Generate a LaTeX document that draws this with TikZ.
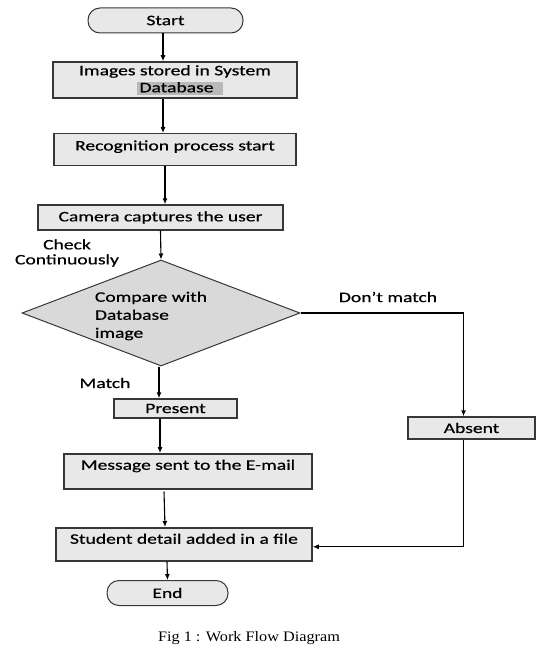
\documentclass[tikz,border=0pt]{standalone}
\usepackage{fontspec}
\setmainfont{Carlito}[FakeStretch=1.35,FakeBold=0.6]
\newfontfamily\capfont{Liberation Serif}[FakeStretch=1.12]
\usetikzlibrary{shapes.geometric,arrows.meta}
\definecolor{boxgray}{RGB}{232,232,232}
\definecolor{diagray}{RGB}{217,217,217}
\definecolor{hlgray}{RGB}{185,185,185}
\definecolor{edgegray}{RGB}{55,55,55}

\begin{document}
\begin{tikzpicture}[x=1pt,y=-1pt,
  font=\fontsize{14.5}{17}\selectfont,
  proc/.style={rectangle, draw=edgegray, line width=1.5pt, fill=boxgray, inner sep=0pt},
  term/.style={rectangle, rounded corners=12pt, draw=edgegray, line width=1pt, fill=boxgray, minimum height=25pt, inner sep=0pt},
  arr/.style={-{Latex[length=6pt,width=5pt]}, line width=1.1pt}]
\useasboundingbox (0,0) rectangle (553,655);

% Boxes
\node[term, minimum width=155pt] (start) at (165.5,20.5) {Start};
\node[proc, minimum width=244pt, minimum height=36pt, align=center] (img) at (175,80)
  {Images stored in System\\ \hspace*{10pt}{\setlength{\fboxsep}{0pt}\colorbox{hlgray}{\rule[-2.5pt]{0pt}{12pt}\hspace{3pt}Database\hspace{10pt}}}};
\node[proc, anchor=north, minimum width=242pt, text height=16.7pt, text depth=15.3pt] (rec) at (175,133) {Recognition process start};
\node[proc, minimum width=245pt, minimum height=25pt] (cam) at (160.5,217.5) {Camera captures the user};

\node[diamond, aspect=2.62, draw=edgegray, line width=1pt, fill=diagray, minimum width=278pt, minimum height=106pt,
  inner sep=0pt, align=left, font=\fontsize{14.5}{18}\selectfont] (cmp) at (161,313)
  {\rule{0pt}{16pt}Compare with\hspace*{20pt}\\Database\\image};

\node[proc, minimum width=123pt, minimum height=19pt] (present) at (175.5,408.5) {Present};
\node[proc, minimum width=127pt, minimum height=22pt] (absent) at (471.5,428) {Absent};
\node[proc, anchor=north, minimum width=248pt, text height=16pt, text depth=19pt] (msg) at (188,453) {Message sent to the E-mail};
\node[proc, anchor=north, minimum width=256pt, text height=16pt, text depth=17pt] (stu) at (184,527) {Student detail added in a file};
\node[term, minimum width=121pt] (end) at (167.5,593) {End};

% Labels
\node[align=center, font=\fontsize{14.5}{15}\selectfont] (chk) at (67,253) {Check\\Continuously};
\node (nomatch) at (388,297) {Don’t match};
\node (match) at (105,383) {Match};

% Arrows
\draw[arr] ([xshift=-2.5pt]start.south) -- ([xshift=-12pt]img.north);
\draw[arr] ([xshift=-12pt]img.south) -- ([xshift=-12pt]rec.north);
\draw[arr] ([xshift=-10pt]rec.south) -- ([xshift=4.5pt]cam.north);
\draw[arr] (cam.south) -- (cmp.north);
\draw[arr] ([xshift=-2pt]cmp.south) -- ([xshift=-16.5pt]present.north);
\draw[arr] ([xshift=-15.5pt]present.south) -- ([xshift=-28pt]msg.north);
\draw[arr] ([xshift=-24pt,yshift=-2pt]msg.south) -- ([xshift=-19pt]stu.north);
\draw[arr] ([xshift=-17pt]stu.south) -- (end.north);
\draw[arr] (cmp.east) -| ([xshift=-8pt]absent.north);
\draw[arr] ([xshift=-8pt]absent.south) |- ([yshift=-2.5pt]stu.east);

% Caption
\node (cap) at (249,638) {\capfont\fontsize{14.5}{17}\selectfont Fig 1 : Work Flow Diagram};
\end{tikzpicture}
\end{document}
